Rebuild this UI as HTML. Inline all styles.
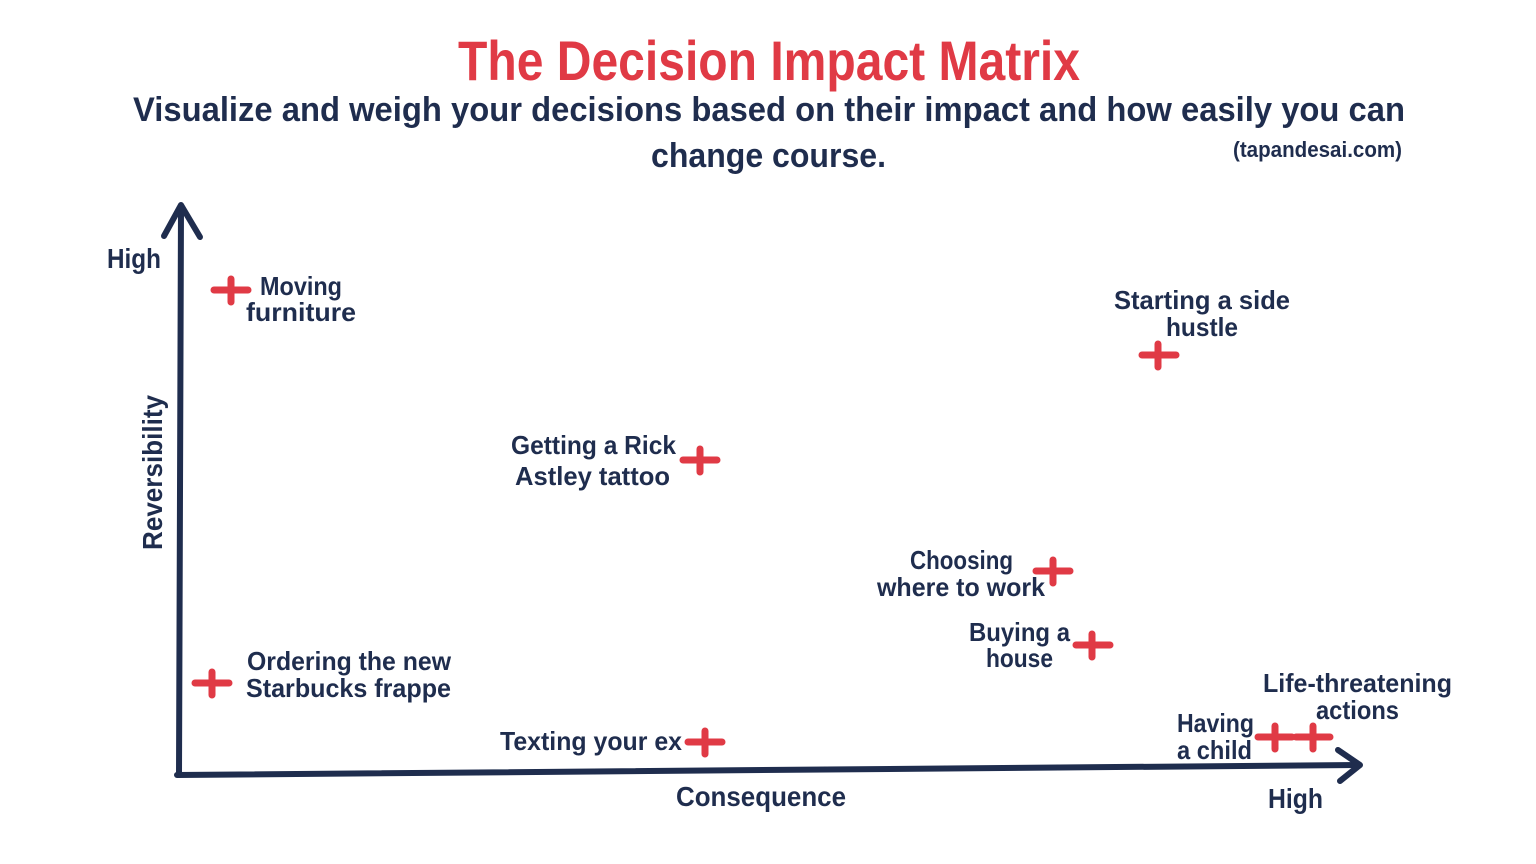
<!DOCTYPE html>
<html><head><meta charset="utf-8"><style>
html,body{margin:0;padding:0;background:#fff;}
svg{display:block;}
text{font-family:"Liberation Sans",sans-serif;font-weight:bold;fill:#1f2d4e;}
</style></head><body>
<svg width="1536" height="864" viewBox="0 0 1536 864" xmlns="http://www.w3.org/2000/svg">
<text x="458" y="80" font-size="56" style="fill:#e03a45" textLength="622" lengthAdjust="spacingAndGlyphs">The Decision Impact Matrix</text>
<text x="133" y="121" font-size="34" textLength="1272" lengthAdjust="spacingAndGlyphs">Visualize and weigh your decisions based on their impact and how easily you can</text>
<text x="651" y="167" font-size="34" textLength="235" lengthAdjust="spacingAndGlyphs">change course.</text>
<text x="1233" y="157" font-size="22" textLength="169" lengthAdjust="spacingAndGlyphs">(tapandesai.com)</text>

<g stroke="#1f2d4e" stroke-width="6" fill="none" stroke-linecap="round" stroke-linejoin="round">
<path d="M179 775 L181 207"/>
<path d="M164 236 L181 205 L200 237"/>
<path d="M177 775 L1358 765"/>
<path d="M1338 750 L1360 765 L1340 781"/>
</g>

<text x="107" y="268" font-size="28" textLength="54" lengthAdjust="spacingAndGlyphs">High</text>
<text transform="translate(162,550) rotate(-90)" font-size="28" textLength="155" lengthAdjust="spacingAndGlyphs">Reversibility</text>
<text x="676" y="806" font-size="28" textLength="170" lengthAdjust="spacingAndGlyphs">Consequence</text>
<text x="1268" y="808" font-size="28" textLength="55" lengthAdjust="spacingAndGlyphs">High</text>

<g stroke="#e03a45" stroke-width="7" stroke-linecap="round">
<path d="M214 290 H248 M231 279 V302"/>
<path d="M1142 355 H1176 M1158 344 V367"/>
<path d="M683 460 H717 M700 449 V472"/>
<path d="M1036 571 H1070 M1053 560 V583"/>
<path d="M1076 645 H1110 M1092 634 V657"/>
<path d="M195 683 H229 M212 672 V695"/>
<path d="M688 742 H722 M705 731 V754"/>
<path d="M1258 737 H1292 M1275 726 V749"/>
<path d="M1296 737 H1330 M1313 726 V749"/>
</g>

<g font-size="26">
<text x="260" y="295" textLength="82" lengthAdjust="spacingAndGlyphs">Moving</text>
<text x="246" y="321" textLength="110" lengthAdjust="spacingAndGlyphs">furniture</text>
<text x="1114" y="309" textLength="176" lengthAdjust="spacingAndGlyphs">Starting a side</text>
<text x="1166" y="336" textLength="72" lengthAdjust="spacingAndGlyphs">hustle</text>
<text x="511" y="454" textLength="165" lengthAdjust="spacingAndGlyphs">Getting a Rick</text>
<text x="515" y="485" textLength="155" lengthAdjust="spacingAndGlyphs">Astley tattoo</text>
<text x="910" y="569" textLength="103" lengthAdjust="spacingAndGlyphs">Choosing</text>
<text x="877" y="596" textLength="168" lengthAdjust="spacingAndGlyphs">where to work</text>
<text x="969" y="641" textLength="101" lengthAdjust="spacingAndGlyphs">Buying a</text>
<text x="986" y="667" textLength="67" lengthAdjust="spacingAndGlyphs">house</text>
<text x="247" y="670" textLength="204" lengthAdjust="spacingAndGlyphs">Ordering the new</text>
<text x="246" y="697" textLength="205" lengthAdjust="spacingAndGlyphs">Starbucks frappe</text>
<text x="500" y="750" textLength="182" lengthAdjust="spacingAndGlyphs">Texting your ex</text>
<text x="1263" y="692" textLength="189" lengthAdjust="spacingAndGlyphs">Life-threatening</text>
<text x="1316" y="719" textLength="83" lengthAdjust="spacingAndGlyphs">actions</text>
<text x="1177" y="732" textLength="77" lengthAdjust="spacingAndGlyphs">Having</text>
<text x="1177" y="759" textLength="75" lengthAdjust="spacingAndGlyphs">a child</text>
</g>
</svg>
</body></html>
